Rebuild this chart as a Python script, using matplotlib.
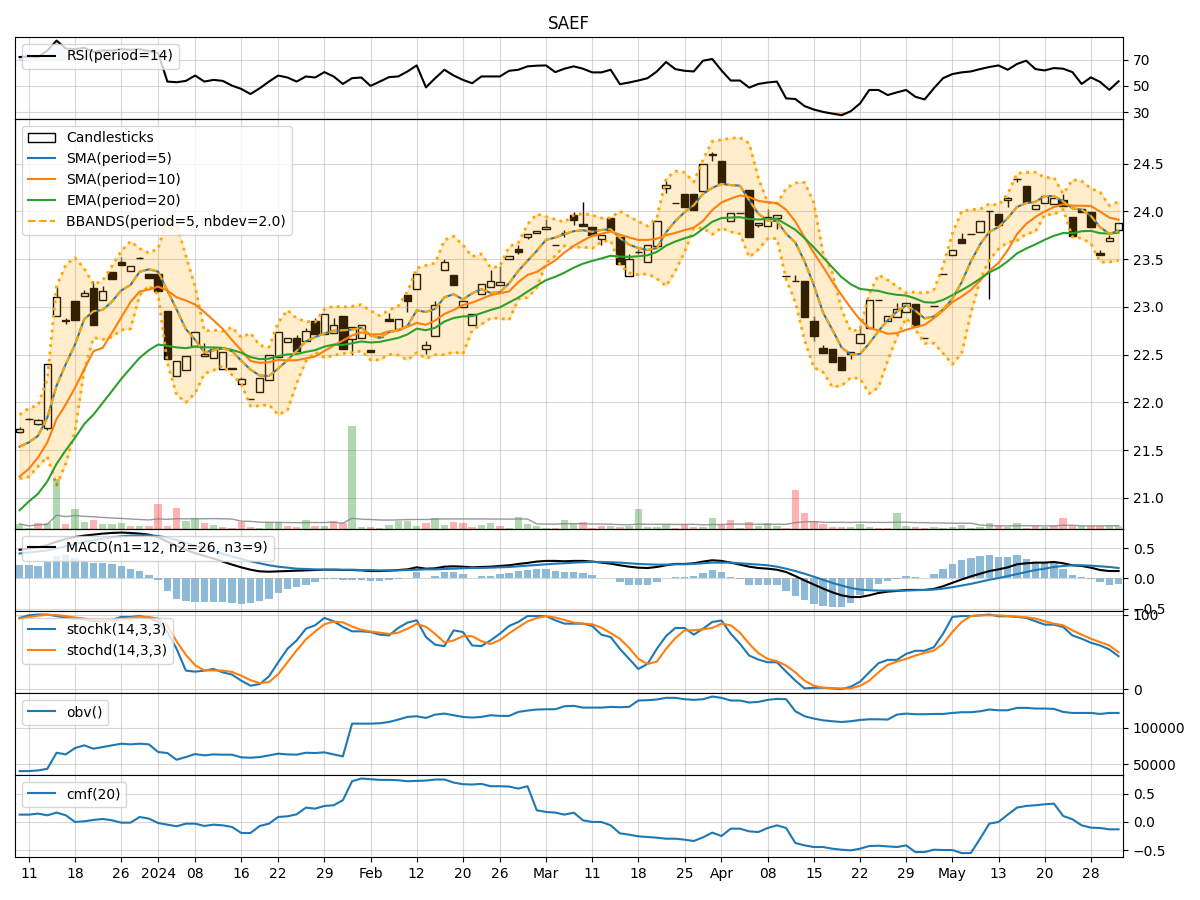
import numpy as np
import pandas as pd
import matplotlib
matplotlib.use('Agg')
import matplotlib.pyplot as plt
from matplotlib.patches import Patch
from matplotlib.lines import Line2D

# ---------------- data ----------------
holidays = ['2023-12-25', '2024-01-01', '2024-01-15', '2024-02-19', '2024-03-29', '2024-05-27']
dates = pd.bdate_range('2023-12-08', '2024-05-31')
dates = dates[~dates.isin(pd.to_datetime(holidays))]

tick_dates = ['2023-12-11', '2023-12-18', '2023-12-26', '2024-01-02', '2024-01-08', '2024-01-16',
              '2024-01-22', '2024-01-29', '2024-02-05', '2024-02-12', '2024-02-20', '2024-02-26',
              '2024-03-04', '2024-03-11', '2024-03-18', '2024-03-25', '2024-04-01', '2024-04-08',
              '2024-04-15', '2024-04-22', '2024-04-29', '2024-05-06', '2024-05-13', '2024-05-20',
              '2024-05-28']
tick_labels = ['11', '18', '26', '2024', '08', '16', '22', '29', 'Feb', '12', '20', '26', 'Mar',
               '11', '18', '25', 'Apr', '08', '15', '22', '29', 'May', '13', '20', '28']

opens = [21.69, 21.83, 21.77, 21.73, 22.91, 22.86, 23.06, 23.11, 23.20, 23.075,
         23.37, 23.475, 23.38, 23.51, 23.35, 23.35, 22.96, 22.28, 22.335, 22.595,
         22.49, 22.46, 22.345, 22.355, 22.19, 22.04, 22.11, 22.23, 22.47, 22.63,
         22.67, 22.64, 22.85, 22.72, 22.73, 22.91, 22.66, 22.67, 22.545, 22.69,
         22.875, 22.765, 23.125, 23.19, 22.555, 22.695, 23.39, 23.335, 22.995, 22.81,
         23.135, 23.21, 23.23, 23.505, 23.605, 23.73, 23.778, 23.816, 23.652, 23.77,
         23.96, 23.868, 23.84, 23.712, 23.935, 23.736, 23.326, 23.58, 23.475, 23.642,
         24.247, 24.09, 24.184, 24.184, 24.212, 24.60, 24.525, 23.903, 23.986, 24.222,
         23.857, 23.85, 23.934, 23.325, 23.27, 23.267, 22.857, 22.565, 22.554, 22.474,
         22.502, 22.624, 22.78, 23.075, 22.856, 22.895, 22.947, 23.03, 22.676, 23.006,
         23.346, 23.545, 23.708, 23.764, 23.788, 24.0, 23.972, 24.118, 24.344, 24.268,
         24.024, 24.09, 24.077, 24.125, 23.944, 24.024, 23.997, 23.569, 23.694, 23.805]
highs = [21.74, 21.84, 21.83, 22.40, 23.21, 22.88, 23.06, 23.18, 23.27, 23.215,
         23.37, 23.52, 23.43, 23.52, 23.35, 23.35, 22.96, 22.43, 22.49, 22.74,
         22.62, 22.57, 22.525, 22.355, 22.27, 22.04, 22.25, 22.50, 22.74, 22.675,
         22.71, 22.78, 22.88, 22.93, 22.88, 22.91, 22.79, 22.815, 22.545, 22.70,
         22.94, 22.875, 23.125, 23.36, 22.648, 23.058, 23.50, 23.335, 23.058, 22.93,
         23.24, 23.388, 23.433, 23.535, 23.649, 23.765, 23.798, 23.917, 23.652, 23.81,
         23.996, 24.10, 23.84, 23.753, 23.935, 23.736, 23.555, 23.61, 23.649, 23.903,
         24.316, 24.09, 24.184, 24.184, 24.494, 24.62, 24.525, 23.979, 23.986, 24.222,
         23.882, 24.024, 23.958, 23.325, 23.336, 23.267, 22.90, 22.60, 22.554, 22.474,
         22.53, 22.797, 23.075, 23.075, 22.902, 23.04, 23.04, 23.03, 22.676, 23.006,
         23.346, 23.597, 23.77, 23.764, 23.90, 24.0, 23.972, 24.153, 24.35, 24.268,
         24.066, 24.163, 24.136, 24.188, 23.944, 24.024, 23.997, 23.60, 23.75, 23.882]
lows = [21.68, 21.82, 21.76, 21.71, 22.91, 22.82, 22.86, 23.11, 22.815, 23.075,
        23.29, 23.44, 23.38, 23.50, 23.30, 23.17, 22.45, 22.28, 22.335, 22.595,
        22.49, 22.46, 22.345, 22.35, 22.19, 22.04, 22.11, 22.23, 22.47, 22.63,
        22.535, 22.64, 22.72, 22.72, 22.73, 22.56, 22.50, 22.67, 22.53, 22.68,
        22.855, 22.765, 22.947, 23.19, 22.509, 22.695, 23.39, 23.23, 22.995, 22.81,
        23.135, 23.21, 23.23, 23.505, 23.555, 23.711, 23.778, 23.816, 23.652, 23.735,
        23.857, 23.847, 23.755, 23.65, 23.805, 23.447, 23.326, 23.55, 23.475, 23.642,
        24.198, 24.09, 24.042, 24.02, 24.212, 24.525, 24.30, 23.903, 23.986, 23.73,
        23.84, 23.85, 23.82, 23.315, 23.267, 22.895, 22.641, 22.52, 22.425, 22.335,
        22.45, 22.624, 22.78, 23.075, 22.856, 22.895, 22.947, 22.797, 22.676, 23.006,
        23.346, 23.545, 23.666, 23.764, 23.788, 23.085, 23.857, 24.049, 24.31, 24.10,
        24.024, 24.09, 24.077, 24.056, 23.743, 23.997, 23.833, 23.545, 23.694, 23.805]
closes = [21.72, 21.83, 21.82, 22.40, 23.10, 22.855, 22.86, 23.145, 22.815, 23.17,
          23.29, 23.44, 23.43, 23.51, 23.30, 23.17, 22.45, 22.43, 22.49, 22.74,
          22.51, 22.56, 22.525, 22.35, 22.24, 22.04, 22.25, 22.50, 22.74, 22.675,
          22.535, 22.75, 22.72, 22.93, 22.815, 22.56, 22.79, 22.815, 22.53, 22.69,
          22.855, 22.875, 23.06, 23.34, 22.605, 23.02, 23.475, 23.23, 23.058, 22.93,
          23.24, 23.275, 23.26, 23.535, 23.58, 23.765, 23.798, 23.837, 23.652, 23.77,
          23.91, 23.847, 23.755, 23.753, 23.805, 23.447, 23.50, 23.58, 23.649, 23.903,
          24.275, 24.09, 24.042, 24.02, 24.494, 24.59, 24.30, 23.979, 23.986, 23.73,
          23.882, 23.944, 23.958, 23.319, 23.267, 22.895, 22.70, 22.52, 22.425, 22.335,
          22.53, 22.72, 23.075, 23.075, 22.902, 22.982, 23.04, 22.797, 22.676, 23.006,
          23.346, 23.597, 23.666, 23.764, 23.90, 24.0, 23.857, 24.136, 24.344, 24.10,
          24.066, 24.163, 24.136, 24.056, 23.743, 23.997, 23.833, 23.545, 23.718, 23.882]
volumes = [2200, 440, 2600, 2600, 22100, 2200, 8700, 2900, 4100, 2200,
           2200, 2600, 1300, 1300, 1300, 10900, 1300, 9200, 3600, 4700,
           2600, 1700, 1000, 200, 3200, 1000, 440, 2800, 2800, 1300,
           1000, 3900, 1300, 1300, 3500, 2600, 45000, 870, 870, 440,
           1700, 3600, 3500, 1300, 2600, 4800, 1700, 3100, 2600, 870,
           1700, 2600, 1300, 300, 5200, 2200, 1300, 300, 440, 3900,
           2200, 3100, 440, 1300, 1300, 870, 1300, 8700, 870, 870,
           2000, 440, 2000, 870, 870, 4800, 1700, 3900, 440, 3100,
           1300, 2600, 1300, 440, 17000, 7000, 3500, 2200, 1000, 870,
           870, 2200, 870, 440, 440, 7000, 1300, 870, 200, 870,
           300, 870, 1700, 300, 870, 2600, 1300, 870, 2600, 440,
           1300, 870, 1300, 4800, 1300, 1300, 1300, 1300, 1300, 1300]

# indicator values at the start of the window
sma5_head = [21.536, 21.581, 21.65, 21.84]
sma10_head = [21.223, 21.303, 21.424, 21.581, 21.824, 21.98, 22.154, 22.345, 22.537]
bb_upper_head = [21.87, 21.94, 21.97, 22.25]
bb_lower_head = [21.20, 21.22, 21.33, 21.43]
ema20_start = 20.87

rsi = [72, 72.5, 72, 77, 84.5, 78.5, 78, 79, 76, 77,
       77, 78, 77.5, 78, 76.5, 75, 53.3, 52.8, 53.8, 57.9,
       53.3, 54.6, 53.8, 50.2, 47.7, 43.8, 48.2, 53.3, 57.9, 56.4,
       53.3, 57.2, 56.4, 60.5, 57.2, 51.5, 55.9, 56.4, 50.0, 53.3,
       56.7, 57.2, 61.0, 65.6, 48.9, 55.9, 62.3, 57.9, 54.6, 52.0,
       57.2, 57.2, 57.2, 61.5, 62.3, 64.9, 65.4, 65.6, 60.5, 63.1,
       64.9, 63.1, 60.3, 60.3, 62.3, 51.3, 52.6, 54.1, 55.9, 61.0,
       68.2, 62.8, 61.5, 61.0, 69.2, 70.5, 61.8, 54.1, 54.1, 48.7,
       51.5, 52.6, 53.3, 40.5, 40.0, 34.6, 32.0, 30.2, 28.9, 27.7,
       30.7, 36.6, 46.9, 46.9, 43.0, 45.1, 46.9, 41.7, 39.7, 48.2,
       55.9, 59.0, 60.3, 61.0, 62.8, 64.4, 65.6, 62.3, 66.7, 69.2,
       62.8, 61.8, 63.6, 63.1, 60.5, 51.5, 56.5, 53.0, 47.0, 53.5]

macd = [0.472, 0.494, 0.511, 0.55, 0.606, 0.65, 0.683, 0.706, 0.722, 0.739,
        0.75, 0.756, 0.75, 0.739, 0.722, 0.678, 0.606, 0.539, 0.472, 0.417,
        0.372, 0.328, 0.278, 0.228, 0.183, 0.144, 0.117, 0.111, 0.117, 0.122,
        0.128, 0.133, 0.139, 0.144, 0.144, 0.139, 0.139, 0.133, 0.122, 0.122,
        0.128, 0.139, 0.15, 0.183, 0.161, 0.167, 0.194, 0.2, 0.194, 0.183,
        0.189, 0.194, 0.206, 0.217, 0.239, 0.256, 0.278, 0.289, 0.289, 0.283,
        0.289, 0.289, 0.278, 0.261, 0.244, 0.217, 0.194, 0.178, 0.172, 0.189,
        0.217, 0.239, 0.239, 0.25, 0.278, 0.3, 0.289, 0.261, 0.228, 0.194,
        0.172, 0.161, 0.144, 0.106, 0.039, -0.033, -0.1, -0.167, -0.228, -0.278,
        -0.306, -0.306, -0.278, -0.239, -0.217, -0.206, -0.189, -0.189, -0.189, -0.172,
        -0.128, -0.072, -0.017, 0.033, 0.078, 0.122, 0.15, 0.183, 0.233, 0.25,
        0.261, 0.261, 0.272, 0.25, 0.217, 0.206, 0.178, 0.139, 0.122, 0.122]
macd_signal = [0.411, 0.428, 0.444, 0.461, 0.494, 0.528, 0.567, 0.6, 0.628, 0.656,
               0.678, 0.694, 0.706, 0.711, 0.711, 0.7, 0.672, 0.633, 0.589, 0.539,
               0.494, 0.45, 0.406, 0.361, 0.322, 0.283, 0.25, 0.217, 0.194, 0.178,
               0.161, 0.156, 0.15, 0.144, 0.144, 0.144, 0.144, 0.139, 0.139, 0.133,
               0.133, 0.133, 0.139, 0.144, 0.15, 0.15, 0.156, 0.161, 0.167, 0.172,
               0.172, 0.178, 0.183, 0.189, 0.2, 0.211, 0.222, 0.233, 0.244, 0.25,
               0.261, 0.267, 0.272, 0.272, 0.267, 0.261, 0.25, 0.239, 0.233, 0.228,
               0.228, 0.233, 0.233, 0.239, 0.25, 0.261, 0.261, 0.261, 0.25, 0.239,
               0.228, 0.217, 0.194, 0.161, 0.122, 0.078, 0.028, -0.022, -0.072, -0.117,
               -0.156, -0.183, -0.194, -0.2, -0.2, -0.2, -0.2, -0.194, -0.189, -0.183,
               -0.167, -0.144, -0.117, -0.089, -0.056, -0.022, 0.006, 0.039, 0.072, 0.106,
               0.139, 0.161, 0.189, 0.206, 0.217, 0.217, 0.211, 0.2, 0.189, 0.172]
macd_hist = [0.217, 0.217, 0.206, 0.272, 0.372, 0.383, 0.344, 0.272, 0.261, 0.261,
             0.233, 0.206, 0.161, 0.122, 0.05, -0.028, -0.2, -0.333, -0.378, -0.394,
             -0.394, -0.394, -0.389, -0.406, -0.417, -0.406, -0.378, -0.333, -0.239, -0.167,
             -0.139, -0.1, -0.061, -0.017, -0.006, -0.028, -0.028, -0.028, -0.044, -0.044,
             -0.033, -0.017, 0.006, 0.106, 0.0, 0.039, 0.106, 0.106, 0.067, 0.01,
             0.039, 0.039, 0.067, 0.094, 0.122, 0.139, 0.15, 0.15, 0.122, 0.106,
             0.106, 0.094, 0.05, 0.01, 0.0, -0.061, -0.1, -0.111, -0.111, -0.061,
             0.0, 0.028, 0.028, 0.039, 0.094, 0.133, 0.106, 0.028, -0.01, -0.1,
             -0.111, -0.111, -0.111, -0.211, -0.283, -0.35, -0.417, -0.461, -0.472, -0.472,
             -0.406, -0.267, -0.172, -0.089, -0.044, -0.017, 0.039, 0.022, 0.0, 0.067,
             0.15, 0.233, 0.3, 0.333, 0.372, 0.383, 0.361, 0.361, 0.383, 0.328,
             0.278, 0.278, 0.272, 0.15, 0.05, 0.028, -0.017, -0.061, -0.1, -0.089]

stochk = [95.5, 99, 100, 100, 98, 95.5, 94.6, 93.7, 91, 91,
          93, 96.8, 96.8, 98, 95.5, 90, 76.6, 54, 24.8, 23.4,
          24.8, 27, 22.5, 19.4, 11.3, 4.5, 6.8, 17, 36, 54,
          65.3, 81, 85.6, 95.5, 91, 83.3, 77.5, 77.5, 76.6, 73,
          72, 82, 89.2, 92.3, 69.8, 59.5, 57.7, 78.8, 76.6, 58.6,
          57.7, 65.3, 74.3, 84.7, 90, 98, 98, 98, 92.3, 87.8,
          87.8, 87.8, 84.7, 73, 69.8, 54, 40.5, 27, 33.8, 54,
          71.2, 82, 82, 73, 81, 90, 92, 74.3, 60.8, 45,
          39.6, 36, 36, 23.4, 11.3, 0.9, 1.8, 1.8, 0.9, 0,
          3.2, 9.9, 22.5, 34.7, 39.2, 39.2, 47.3, 51.4, 51.4, 56.3,
          74.3, 96.8, 98, 98, 99, 100, 97.7, 97.7, 96.8, 95.5,
          91, 86.5, 86.5, 83.3, 72, 67.6, 62.2, 58.6, 53.2, 44.1]
stochd = [94.6, 96.5, 98.5, 99.7, 99.3, 97.8, 96, 94.6, 93, 92,
          92, 93.6, 95.5, 97.2, 96.8, 94.5, 85, 64, 46, 32,
          25, 25, 24.8, 23, 18, 12, 8, 9.5, 20, 36,
          52, 66.8, 77.3, 87, 90.5, 89.5, 84, 79.5, 77.2, 75.7,
          74, 75.7, 81, 87.5, 83.5, 74, 62.5, 65.3, 71, 71,
          64.3, 60.5, 65.8, 74.8, 83, 90.9, 95.3, 98, 96, 92.7,
          89.2, 87.8, 86.9, 82.4, 75.2, 67.6, 55.4, 40.5, 33.8, 36.9,
          54, 68.5, 78.8, 78.8, 80.2, 82, 87.8, 85.6, 75.7, 60.8,
          48.2, 40.5, 37.4, 31.5, 22.5, 11.3, 4.5, 1.8, 1.4, 0.9,
          0.9, 4.5, 11.3, 22.5, 32.4, 36.9, 40.5, 45, 48.6, 51.8,
          60.8, 76.6, 90, 98, 99, 99, 99, 98, 97.3, 96.4,
          94.6, 91, 87.8, 85.6, 78.8, 73, 67.6, 63, 58.6, 49.5]

obv = [40300, 40300, 41200, 43500, 65700, 63400, 72200, 75900, 71300, 73600,
       75900, 78200, 77300, 78200, 77300, 66700, 65300, 56000, 59700, 63900,
       62000, 63400, 63000, 63000, 59300, 58800, 59700, 62000, 64400, 63400,
       63000, 65700, 65300, 66200, 63400, 60600, 106000, 106000, 106000, 106500,
       108300, 111600, 115300, 116200, 113900, 118500, 119900, 117600, 115300, 114400,
       115300, 117600, 116700, 116700, 122200, 124100, 125500, 125900, 125900, 130100,
       130600, 128200, 128200, 128200, 129200, 128700, 129200, 138000, 138400, 139400,
       141700, 141700, 139800, 138900, 139800, 143500, 141700, 138000, 138000, 135200,
       136100, 138900, 140300, 139800, 123100, 116200, 113000, 110600, 109300, 108300,
       109300, 111100, 112000, 112000, 111600, 118500, 119900, 119000, 119000, 119400,
       119400, 120800, 121800, 121800, 123100, 125500, 124500, 124500, 127800, 127800,
       126900, 126900, 126400, 122200, 120800, 120800, 120800, 119400, 120800, 120800]

cmf = [0.131, 0.131, 0.149, 0.119, 0.167, 0.119, 0.0, 0.012, 0.036, 0.054,
       0.03, -0.012, -0.012, 0.089, 0.06, -0.018, -0.048, -0.077, -0.03, -0.03,
       -0.071, -0.048, -0.06, -0.089, -0.196, -0.196, -0.071, -0.03, 0.089, 0.101,
       0.137, 0.256, 0.238, 0.286, 0.298, 0.387, 0.726, 0.774, 0.762, 0.75,
       0.75, 0.744, 0.726, 0.732, 0.738, 0.756, 0.756, 0.702, 0.673, 0.667,
       0.679, 0.637, 0.637, 0.631, 0.595, 0.637, 0.208, 0.179, 0.167, 0.131,
       0.167, 0.03, 0.0, 0.0, -0.06, -0.202, -0.226, -0.256, -0.268, -0.28,
       -0.298, -0.298, -0.315, -0.339, -0.274, -0.19, -0.25, -0.119, -0.119, -0.167,
       -0.179, -0.107, -0.06, -0.107, -0.375, -0.417, -0.446, -0.446, -0.476, -0.494,
       -0.506, -0.476, -0.429, -0.423, -0.435, -0.446, -0.417, -0.536, -0.536, -0.494,
       -0.5, -0.5, -0.554, -0.554, -0.298, -0.03, 0.0, 0.131, 0.256, 0.286,
       0.298, 0.315, 0.327, 0.107, 0.048, -0.06, -0.101, -0.107, -0.131, -0.131]

# ---------------- derived series ----------------
n = len(dates)
x = np.arange(n)
o = np.array(opens); h = np.array(highs); l = np.array(lows); c = np.array(closes)
v = np.array(volumes, dtype=float)
cs = pd.Series(c)

sma5 = cs.rolling(5).mean().to_numpy()
sma5[:len(sma5_head)] = sma5_head
sma10 = cs.rolling(10).mean().to_numpy()
sma10[:len(sma10_head)] = sma10_head
std5 = cs.rolling(5).std(ddof=0).to_numpy()
bb_up = sma5 + 2.0 * std5
bb_lo = sma5 - 2.0 * std5
bb_up[:len(bb_upper_head)] = bb_upper_head
bb_lo[:len(bb_lower_head)] = bb_lower_head
alpha = 2.0 / 21.0
ema20 = np.empty(n)
ema20[0] = ema20_start
for i in range(1, n):
    ema20[i] = ema20[i - 1] + alpha * (c[i] - ema20[i - 1])
vol_ma = pd.Series(v).rolling(20, min_periods=1).mean().to_numpy()
rsi_a = np.array(rsi)

# ---------------- figure ----------------
fig, axes = plt.subplots(6, 1, figsize=(12, 9), dpi=100, sharex=True,
                         gridspec_kw=dict(height_ratios=[1, 5, 1, 1, 1, 1], hspace=0,
                                          left=0.0125, right=0.936, top=0.959, bottom=0.048))
ax_rsi, ax, ax_macd, ax_st, ax_obv, ax_cmf = axes

# RSI
ax_rsi.plot(x, rsi_a, color='black', lw=1.5, label='RSI(period=14)')
ax_rsi.fill_between(x, 70, rsi_a, where=rsi_a > 70, interpolate=True, color='tab:blue', alpha=0.15)
ax_rsi.fill_between(x, rsi_a, 30, where=rsi_a < 30, interpolate=True, color='tab:orange', alpha=0.4)
ax_rsi.set_yticks([30, 50, 70])
ax_rsi.legend(loc='upper left')
ax_rsi.set_title('SAEF')

# Main price panel
up = c >= o
ax.vlines(x, l, h, color='black', lw=1, zorder=1.5)
ax.bar(x, np.abs(c - o), bottom=np.minimum(o, c), width=0.8,
       color=np.where(up, 'white', 'black'), edgecolor='black', linewidth=1, zorder=2)
ax.fill_between(x, bb_lo, bb_up, color='orange', alpha=0.2, zorder=2.5)
ax.plot(x, bb_up, color='orange', ls=':', lw=2, zorder=3)
ax.plot(x, bb_lo, color='orange', ls=':', lw=2, zorder=3)
ax.plot(x, sma5, color='tab:blue', lw=1.5, zorder=3.1)
ax.plot(x, sma10, color='tab:orange', lw=1.5, zorder=3.1)
ax.plot(x, ema20, color='tab:green', lw=1.5, zorder=3.1)
ax.plot(x, sma5, color='orange', ls='--', lw=1.5, zorder=3.2)
handles = [Patch(facecolor='white', edgecolor='black', label='Candlesticks'),
           Line2D([], [], color='tab:blue', lw=1.5, label='SMA(period=5)'),
           Line2D([], [], color='tab:orange', lw=1.5, label='SMA(period=10)'),
           Line2D([], [], color='tab:green', lw=1.5, label='EMA(period=20)'),
           Line2D([], [], color='orange', ls='--', lw=1.5, label='BBANDS(period=5, nbdev=2.0)')]
ax.legend(handles=handles, loc='upper left')

axv = ax.twinx()
prev = np.concatenate([[c[0] - 1], c[:-1]])
vcol = np.where(c > prev, 'green', 'red')
axv.bar(x, v, width=0.8, color=vcol, alpha=0.3)
axv.plot(x, vol_ma, color='gray', lw=1, alpha=0.8)
axv.set_ylim(0, 4 * v.max())
axv.set_yticks([])

# MACD
ax_macd.bar(x, macd_hist, width=0.8, color='tab:blue', alpha=0.5)
ax_macd.plot(x, macd, color='black', lw=1.5, label='MACD(n1=12, n2=26, n3=9)')
ax_macd.plot(x, macd_signal, color='tab:blue', lw=1.5)
ax_macd.legend(loc='upper left')

# Stochastic
ax_st.plot(x, stochk, color='tab:blue', lw=1.5, label='stochk(14,3,3)')
ax_st.plot(x, stochd, color='tab:orange', lw=1.5, label='stochd(14,3,3)')
ax_st.set_yticks([0, 100])
ax_st.legend(loc='upper left')

# OBV
ax_obv.plot(x, obv, color='tab:blue', lw=1.5, label='obv()')
ax_obv.legend(loc='upper left')

# CMF
ax_cmf.plot(x, cmf, color='tab:blue', lw=1.5, label='cmf(20)')
ax_cmf.legend(loc='upper left')

for a in axes:
    a.yaxis.tick_right()
    a.grid(True, alpha=0.5)

tick_pos = [dates.get_loc(pd.Timestamp(d)) for d in tick_dates]
ax_cmf.set_xticks(tick_pos)
ax_cmf.set_xticklabels(tick_labels)
ax_cmf.set_xlim(-0.5, n - 0.5)

fig.savefig('out.png', dpi=100)
